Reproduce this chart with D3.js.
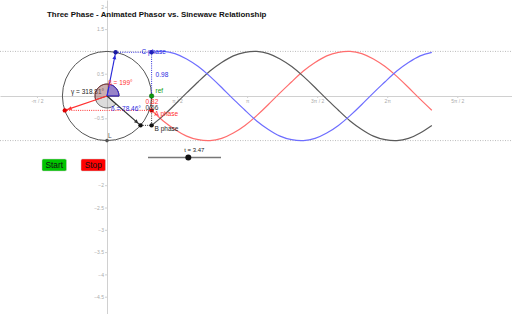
<!DOCTYPE html>
<html>
<head>
<meta charset="utf-8">
<script src="https://cdn.jsdelivr.net/npm/d3@7"></script>
<style>
  body { margin: 0; background: #fff; }
  svg { display: block; font-family: "Liberation Sans", Arial, sans-serif; }
</style>
</head>
<body>
<div id="chart"></div>
<script>
var title = "Three Phase - Animated Phasor vs. Sinewave Relationship";

// wave samples, every 15 degrees past the start of the wave (x = 1)
var waveStart = 1;
var waveDeg = [0, 15, 30, 45, 60, 75, 90, 105, 120, 135, 150, 165, 180, 195, 210, 225, 240, 255, 270, 285, 300, 315, 330, 345, 360];
var phaseA = [-0.32, -0.56, -0.75, -0.90, -0.98, -1.00, -0.95, -0.83, -0.66, -0.44, -0.19, 0.07, 0.32, 0.56, 0.75, 0.90, 0.98, 1.00, 0.95, 0.83, 0.66, 0.44, 0.19, -0.07, -0.32];
var phaseB = [-0.66, -0.44, -0.19, 0.07, 0.32, 0.56, 0.75, 0.90, 0.98, 1.00, 0.95, 0.83, 0.66, 0.44, 0.19, -0.07, -0.32, -0.56, -0.75, -0.90, -0.98, -1.00, -0.95, -0.83, -0.66];
var phaseC = [0.98, 1.00, 0.95, 0.83, 0.66, 0.44, 0.19, -0.07, -0.32, -0.56, -0.75, -0.90, -0.98, -1.00, -0.95, -0.83, -0.66, -0.44, -0.19, 0.07, 0.32, 0.56, 0.75, 0.90, 0.98];

// phasors
var phasorNames = ["A phase", "B phase", "C phase"];
var phasorDeg = [198.81, 318.81, 78.81];
var phasorRead = ["0.32", "0.66", "0.98"];
var angleLabels = ["β = 199°", "γ = 318.81°", "δ = 78.46°"];

// axes
var xTickPi = [-0.5, 0.5, 1, 1.5, 2, 2.5];
var xTickText = ["-π / 2", "π / 2", "π", "3π / 2", "2π", "5π / 2"];
var yTickVals = [2, 1.5, 0.5, -0.5, -2, -2.5, -3, -3.5, -4, -4.5];

var tValue = 3.47;

var W = 512, H = 314;
var unit = 44.6, ox = 107, oy = 96;

var x = d3.scaleLinear().domain([-ox / unit, (W - ox) / unit]).range([0, W]);
var y = d3.scaleLinear().domain([oy / unit, (oy - H) / unit]).range([0, H]);
var rad = function (deg) { return deg * Math.PI / 180; };

var svg = d3.select("#chart").append("svg")
    .attr("width", W)
    .attr("height", H);

// dotted +-1 guide lines
[1, -1].forEach(function (v) {
  svg.append("line")
      .attr("x1", 0).attr("x2", W)
      .attr("y1", y(v)).attr("y2", y(v))
      .attr("stroke", "#bbb")
      .attr("stroke-dasharray", "1,1.5");
});

// axes
var xAxis = svg.append("g")
    .attr("transform", "translate(0," + y(0) + ")")
    .call(d3.axisBottom(x)
        .tickValues(xTickPi.map(function (v) { return v * Math.PI; }))
        .tickSize(2).tickSizeOuter(0)
        .tickFormat(function (d, i) { return xTickText[i]; }));

var yAxis = svg.append("g")
    .attr("transform", "translate(" + x(0) + ",0)")
    .call(d3.axisLeft(y)
        .tickValues(yTickVals)
        .tickSize(2).tickSizeOuter(0)
        .tickFormat(d3.format("")));

[xAxis, yAxis].forEach(function (g) {
  g.select(".domain").attr("stroke", "#d0d0d0");
  g.selectAll(".tick line").attr("stroke", "#d0d0d0");
  g.selectAll(".tick text")
      .attr("fill", "#aaa")
      .style("font-size", "5px")
      .style("font-family", "'Liberation Sans', Arial, sans-serif");
});
xAxis.selectAll(".tick text").attr("y", 3);
yAxis.selectAll(".tick text").attr("x", -3);

// title
svg.append("text")
    .attr("x", 47).attr("y", 17)
    .attr("font-size", "7.9px")
    .attr("font-weight", "bold")
    .attr("fill", "#111")
    .text(title);

// unit circle
svg.append("circle")
    .attr("cx", x(0)).attr("cy", y(0))
    .attr("r", x(1) - x(0))
    .attr("fill", "none")
    .attr("stroke", "#555")
    .attr("stroke-width", 1);

// gamma label sits under the angle sectors
svg.append("text")
    .attr("x", x(0) - 36).attr("y", y(0) - 2)
    .attr("font-size", "6.5px").attr("fill", "#222")
    .text(angleLabels[1]);

// angle sectors, largest first
var sector = d3.arc().innerRadius(0).outerRadius(12);
var sectors = [
  { deg: phasorDeg[1], fill: "rgba(140,140,140,0.3)", stroke: "#444" },
  { deg: phasorDeg[0], fill: "rgba(160,60,60,0.28)", stroke: "#7a3030" },
  { deg: phasorDeg[2], fill: "rgba(90,80,230,0.45)", stroke: "#2a2ae0" }
];
sectors.forEach(function (s) {
  svg.append("path")
      .attr("transform", "translate(" + x(0) + "," + y(0) + ")")
      .attr("d", sector({ startAngle: Math.PI / 2 - rad(s.deg), endAngle: Math.PI / 2 }))
      .attr("fill", s.fill)
      .attr("stroke", s.stroke)
      .attr("stroke-width", 0.8);
});

// waves
var waveColors = ["#ff6e6e", "#5a5a5a", "#6e6eff"];
var waves = [phaseA, phaseB, phaseC];
var line = d3.line()
    .x(function (d, i) { return x(waveStart + rad(waveDeg[i])); })
    .y(function (d) { return y(d); })
    .curve(d3.curveNatural);
waves.forEach(function (w, i) {
  svg.append("path")
      .attr("d", line(w))
      .attr("fill", "none")
      .attr("stroke", waveColors[i])
      .attr("stroke-width", 1.2);
});

// phasors with projections
var phasorColors = ["#ff3030", "#333", "#2a2ad8"];
var dotColors = ["#e00000", "#111", "#1a1aa0"];
phasorDeg.forEach(function (deg, i) {
  var cx = Math.cos(rad(deg)), sy = Math.sin(rad(deg));
  var px = x(cx), py = y(sy);
  var col = phasorColors[i];

  svg.append("line")
      .attr("x1", px).attr("y1", py)
      .attr("x2", x(waveStart)).attr("y2", py)
      .attr("stroke", col).attr("stroke-dasharray", "1,1.2");
  svg.append("line")
      .attr("x1", x(waveStart)).attr("y1", py)
      .attr("x2", x(waveStart)).attr("y2", y(0))
      .attr("stroke", col).attr("stroke-dasharray", "1,1.2");

  svg.append("line")
      .attr("x1", x(0)).attr("y1", y(0))
      .attr("x2", px).attr("y2", py)
      .attr("stroke", col).attr("stroke-width", 1.2);

  // arrow head just before the tip
  var ang = Math.atan2(py - y(0), px - x(0));
  var tx = px - 3 * Math.cos(ang), ty = py - 3 * Math.sin(ang);
  var hx = tx - 4 * Math.cos(ang), hy = ty - 4 * Math.sin(ang);
  svg.append("path")
      .attr("d", "M" + tx + "," + ty +
          "L" + (hx + 2 * Math.sin(ang)) + "," + (hy - 2 * Math.cos(ang)) +
          "L" + (hx - 2 * Math.sin(ang)) + "," + (hy + 2 * Math.cos(ang)) + "Z")
      .attr("fill", col);

  [[px, py], [x(waveStart), py]].forEach(function (p) {
    svg.append("circle")
        .attr("cx", p[0]).attr("cy", p[1]).attr("r", 2.2)
        .attr("fill", dotColors[i]);
  });
});

// reference and L points
svg.append("circle")
    .attr("cx", x(waveStart)).attr("cy", y(0)).attr("r", 2.3)
    .attr("fill", "#0a9a0a").attr("stroke", "#055a05").attr("stroke-width", 0.5);
svg.append("circle")
    .attr("cx", x(0)).attr("cy", y(-1)).attr("r", 1.8)
    .attr("fill", "#555");

// labels
var lab = function (tx, ty, txt, col) {
  svg.append("text")
      .attr("x", tx).attr("y", ty)
      .attr("font-size", "6.5px")
      .attr("fill", col)
      .text(txt);
};
var sA = Math.sin(rad(phasorDeg[0])), sB = Math.sin(rad(phasorDeg[1])), sC = Math.sin(rad(phasorDeg[2]));
lab(x(waveStart) - 10, y(sC) + 1.5, phasorNames[2], "#2a2ae0");
lab(x(waveStart) + 4, (y(sC) + y(0)) / 2 + 3, phasorRead[2], "#2a2ae0");
lab(x(waveStart) + 4, y(0) - 3, "ref", "#0a9a0a");
lab(x(waveStart) - 6, y(0) + 7.5, phasorRead[0], "#ff3030");
lab(x(waveStart) - 6, y(0) + 14, phasorRead[1], "#333");
lab(x(waveStart) + 3, y(sA) + 6, phasorNames[0], "#ff3030");
lab(x(waveStart) + 3, y(sB) + 6, phasorNames[1], "#222");
lab(x(0) + 1, y(0) - 11, angleLabels[0], "#ff3030");
lab(x(0) + 4, y(0) + 15, angleLabels[2], "#2a2ae0");
lab(x(0) + 1, y(-1) - 3, "L", "#555");

// buttons
var buttons = [
  { name: "Start", x0: 42, fill: "#00c400" },
  { name: "Stop", x0: 81, fill: "#ff0000" }
];
buttons.forEach(function (b) {
  svg.append("rect")
      .attr("x", b.x0).attr("y", 159)
      .attr("width", 24.5).attr("height", 12)
      .attr("rx", 1.5)
      .attr("fill", b.fill)
      .attr("stroke", "#c8c8c8").attr("stroke-width", 0.5);
  svg.append("text")
      .attr("x", b.x0 + 12.25).attr("y", 168.3)
      .attr("text-anchor", "middle")
      .attr("font-size", "8.3px")
      .attr("fill", "#111")
      .text(b.name);
});

// slider for t
var slide = d3.scaleLinear().domain([0, 2 * Math.PI]).range([148, 221]);
svg.append("line")
    .attr("x1", slide(0)).attr("x2", slide(2 * Math.PI))
    .attr("y1", 157.5).attr("y2", 157.5)
    .attr("stroke", "#777").attr("stroke-width", 1.6);
svg.append("circle")
    .attr("cx", slide(tValue)).attr("cy", 157.5).attr("r", 3)
    .attr("fill", "#111");
svg.append("text")
    .attr("x", slide(tValue) + 6).attr("y", 152)
    .attr("text-anchor", "middle")
    .attr("font-size", "6px")
    .attr("fill", "#222")
    .text("t = " + tValue.toFixed(2));
</script>
</body>
</html>
